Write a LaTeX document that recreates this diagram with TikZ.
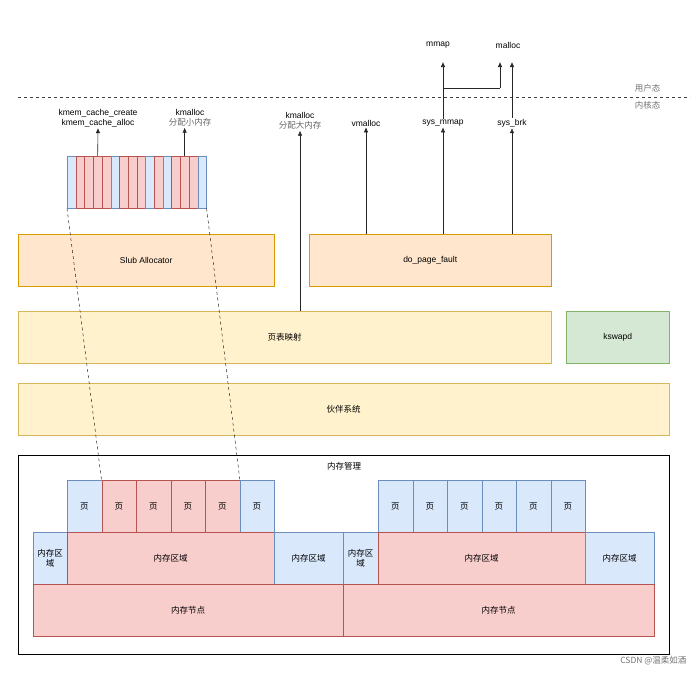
\documentclass[tikz,border=0pt]{standalone}
\usepackage{fontspec}
\usetikzlibrary{arrows.meta}
\setmainfont{Liberation Sans}
\newfontfamily\cjk{Noto Sans CJK SC}
\definecolor{orF}{HTML}{FFE6CC}\definecolor{orD}{HTML}{D79B00}
\definecolor{yeF}{HTML}{FFF2CC}\definecolor{yeD}{HTML}{D6B656}
\definecolor{grF}{HTML}{D5E8D4}\definecolor{grD}{HTML}{82B366}
\definecolor{blF}{HTML}{DAE8FC}\definecolor{blD}{HTML}{6C8EBF}
\definecolor{reF}{HTML}{F8CECC}\definecolor{reD}{HTML}{B85450}
\begin{document}
\begin{tikzpicture}[x=1pt,y=-1pt,font=\fontsize{8.5}{10}\selectfont,
 box/.style={draw,minimum width=#1,inner sep=0,anchor=north west,minimum height=52},
 orange/.style={fill=orF,draw=orD},
 yel/.style={fill=yeF,draw=yeD},
 grn/.style={fill=grF,draw=grD},
 blu/.style={fill=blF,draw=blD},
 red/.style={fill=reF,draw=reD},
 cjkf/.style={font=\cjk\fontsize{8.5}{10}\selectfont},
 cell/.style={draw,minimum width=8.7,minimum height=52,inner sep=0,anchor=north west},
 lbl/.style={align=center,inner sep=1},
 arr/.style={-{Latex[length=5pt,width=4.5pt]},semithick,black!85},
 gray/.style={text=black!55}]
\useasboundingbox (0,0) rectangle (699,675);
\draw[dashed,black!75] (18,97) -- (690,97);
\node[gray,anchor=east,cjkf] (u) at (664,88) {用户态};
\node[gray,anchor=east,cjkf] (k) at (664,105) {内核态};
\node[lbl] (mmap) at (438,45) {mmap};
\node[lbl] (malloc) at (508,45) {malloc};
\node[lbl] (sysmmap) at (443,123) {sys\_mmap};
\node[lbl] (sysbrk) at (512,123) {sys\_brk};
\node[lbl] (vmalloc) at (366,123) {vmalloc};
\node[lbl] (kml) at (300,121) {kmalloc\\{\cjk \color{black!60}分配大内存}};
\node[lbl] (kmc) at (98,118) {kmem\_cache\_create\\kmem\_cache\_alloc};
\node[lbl] (kms) at (190,118) {kmalloc\\{\cjk \color{black!60}分配小内存}};
\node[box=256,orange] (slub) at (18,234) {Slub Allocator};
\node[box=242,orange] (dpf) at (309,234) {do\_page\_fault};
\node[box=533,yel,cjkf] (pt) at (18,311) {页表映射};
\node[box=103,grn] (ksw) at (566,311) {kswapd};
\node[box=651,yel,cjkf] (buddy) at (18,383) {伙伴系统};
\coordinate (m1) at (443,62); \coordinate (m2) at (500,62); \coordinate (m3) at (512,62);
\draw[arr] (sysmmap.north -| m1) -- (m1);
\draw[semithick,black!85] (443,88) -- (500,88);
\draw[arr] (500,88) -- (m2);
\draw[arr] (sysbrk.north -| m3) -- (m3);
\draw[arr] (dpf.north -| sysmmap) -- (sysmmap.south);
\draw[arr] (dpf.north -| sysbrk) -- (sysbrk.south);
\draw[arr] (dpf.north -| vmalloc) -- (vmalloc.south);
\draw[arr] (pt.north -| kml) -- (kml.south);
\foreach \i/\c in {0/blu,1/red,2/red,3/red,4/red,5/blu,6/red,7/red,8/red,9/blu,10/red,11/blu,12/red,13/red,14/red,15/blu}
  \node[cell,\c] (s\i) at ({67+\i*8.7},156) {};
\draw[arr] (s3.north) -- (kmc.south);
\draw[arr] (s13.north) -- (kms.south -| s13.north);
\node[draw,minimum width=651,minimum height=199,anchor=north west,inner sep=0] (mm) at (18,455) {};
\node[cjkf] (mmt) at (344,466) {内存管理};
\begin{scope}[cjkf]
\foreach \i/\c in {0/blu,1/red,2/red,3/red,4/red,5/blu}
  \node[box=34.5,\c] (p\i) at ({67+\i*34.5},480) {页};
\foreach \i in {0,...,5}
  \node[box=34.5,blu] (q\i) at ({378+\i*34.5},480) {页};
\node[box=34,blu,align=center] (z1) at (33,532) {内存区\\域};
\node[box=207,red] (z2) at (67,532) {内存区域};
\node[box=69,blu] (z3) at (274,532) {内存区域};
\node[box=35,blu,align=center] (z4) at (343,532) {内存区\\域};
\node[box=207,red] (z5) at (378,532) {内存区域};
\node[box=69,blu] (z6) at (585,532) {内存区域};
\node[box=310,red] (n1) at (33,584) {内存节点};
\node[box=311,red] (n2) at (343,584) {内存节点};
\end{scope}
\draw[dashed] (s0.south west) -- (p1.north west);
\draw[dashed] (s15.south east) -- (p4.north east);
\node[gray,anchor=east,cjkf] (wm) at (690,661) {CSDN @温柔如酒};
\end{tikzpicture}
\end{document}
